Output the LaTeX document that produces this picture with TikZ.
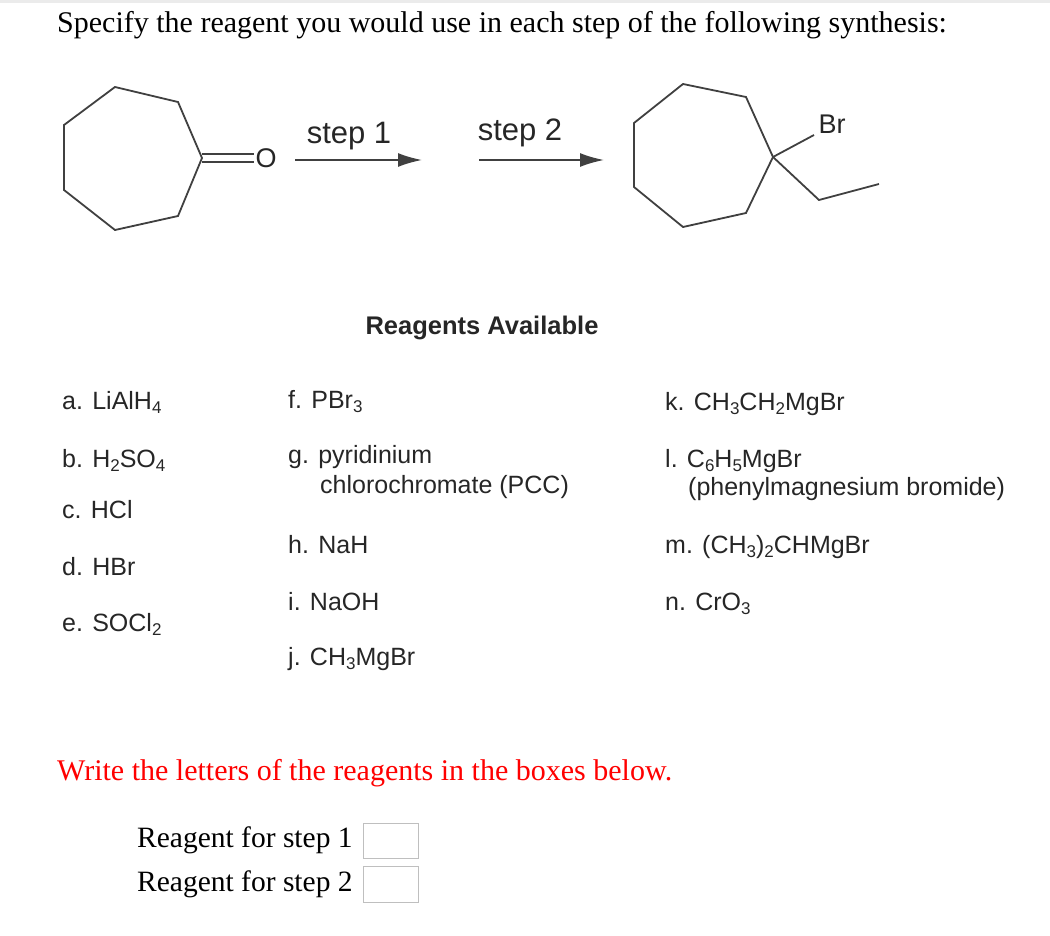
\documentclass[tikz,border=0pt]{standalone}
\usetikzlibrary{arrows.meta}
\usepackage{fontspec}
\setmainfont{Liberation Serif}
\setsansfont{Liberation Sans}
\newcommand{\sbs}[1]{\raisebox{-0.3ex}{\fontsize{17}{18}\selectfont #1}}
\begin{document}
\begin{tikzpicture}[x=1pt,y=-1pt,
  bond/.style={line width=1.8pt,draw=black!75},
  sl/.style={font=\sffamily\fontsize{25}{27}\selectfont,anchor=west,inner sep=0,text=black!85},
  sr/.style={font=\rmfamily\fontsize{30}{32}\selectfont,anchor=west,inner sep=0},
  box/.style={draw=black!25,line width=0.8pt}]
\useasboundingbox (0,0) rectangle (1050,936);
\fill[black!8] (0,0) rectangle (1050,3);
\node[sr] (title) at (57,25) {Specify the reagent you would use in each step of the following synthesis:};
% ring 1
\draw[bond] (115,87)--(178,102)--(202,158)--(178,216)--(115,230)--(64,190)--(64,125)--cycle;
\node[font=\sffamily\fontsize{27}{29}\selectfont,inner sep=1pt,text=black!85] (O) at (266,158) {O};
\draw[bond] (202,154)--(O.west|-0,154) (202,162)--(O.west|-0,162);
\coordinate (a1s) at (295,160); \coordinate (a1e) at (422,160);
\coordinate (a2s) at (479,160); \coordinate (a2e) at (604,160);
\draw[bond,-{Latex[length=24pt,width=14pt]}] (a1s)--(a1e);
\draw[bond,-{Latex[length=24pt,width=14pt]}] (a2s)--(a2e);
\node[sl,anchor=center,font=\sffamily\fontsize{31}{33}\selectfont] (s1) at (349,136) {step 1};
\node[sl,anchor=center,font=\sffamily\fontsize{31}{33}\selectfont] (s2) at (520,133) {step 2};
% ring 2
\draw[bond] (683,84)--(746,97)--(773,157)--(746,213)--(683,227)--(634,187)--(634,123)--cycle;
\node[sl,anchor=center,font=\sffamily\fontsize{27}{29}\selectfont] (Br) at (832,124) {Br};
\draw[bond] (773,157)--(814,135);
\draw[bond] (773,157)--(819,200)--(879,184);
\node[anchor=center,font=\sffamily\bfseries\fontsize{25.5}{27}\selectfont,text=black!85] (ra) at (482,328) {Reagents Available};
\node[sl] at (62,402) {a. LiAlH\sbs{4}};
\node[sl] at (62,460) {b. H\sbs{2}SO\sbs{4}};
\node[sl] at (62,510) {c. HCl};
\node[sl] at (62,567) {d. HBr};
\node[sl] at (62,624) {e. SOCl\sbs{2}};
\node[sl] at (288,402) {f. PBr\sbs{3}};
\node[sl] at (288,457) {g. pyridinium};
\node[sl] at (320,487) {chlorochromate (PCC)};
\node[sl] at (288,545) {h. NaH};
\node[sl] at (288,602) {i. NaOH};
\node[sl] at (288,659) {j. CH\sbs{3}MgBr};
\node[sl] at (665,404) {k. CH\sbs{3}CH\sbs{2}MgBr};
\node[sl] at (665,461) {l. C\sbs{6}H\sbs{5}MgBr};
\node[sl] at (688,489) {(phenylmagnesium bromide)};
\node[sl] at (665,547) {m. (CH\sbs{3})\sbs{2}CHMgBr};
\node[sl] at (665,604) {n. CrO\sbs{3}};
\node[sr,text=red] (w) at (57,773) {Write the letters of the reagents in the boxes below.};
\node[sr,font=\rmfamily\fontsize{29.5}{31}\selectfont] (r1) at (137,840) {Reagent for step 1};
\node[sr,font=\rmfamily\fontsize{29.5}{31}\selectfont] (r2) at (137,884) {Reagent for step 2};
\draw[box] (363,823) rectangle (418,858);
\draw[box] (363,866) rectangle (418,902);
\end{tikzpicture}
\end{document}
